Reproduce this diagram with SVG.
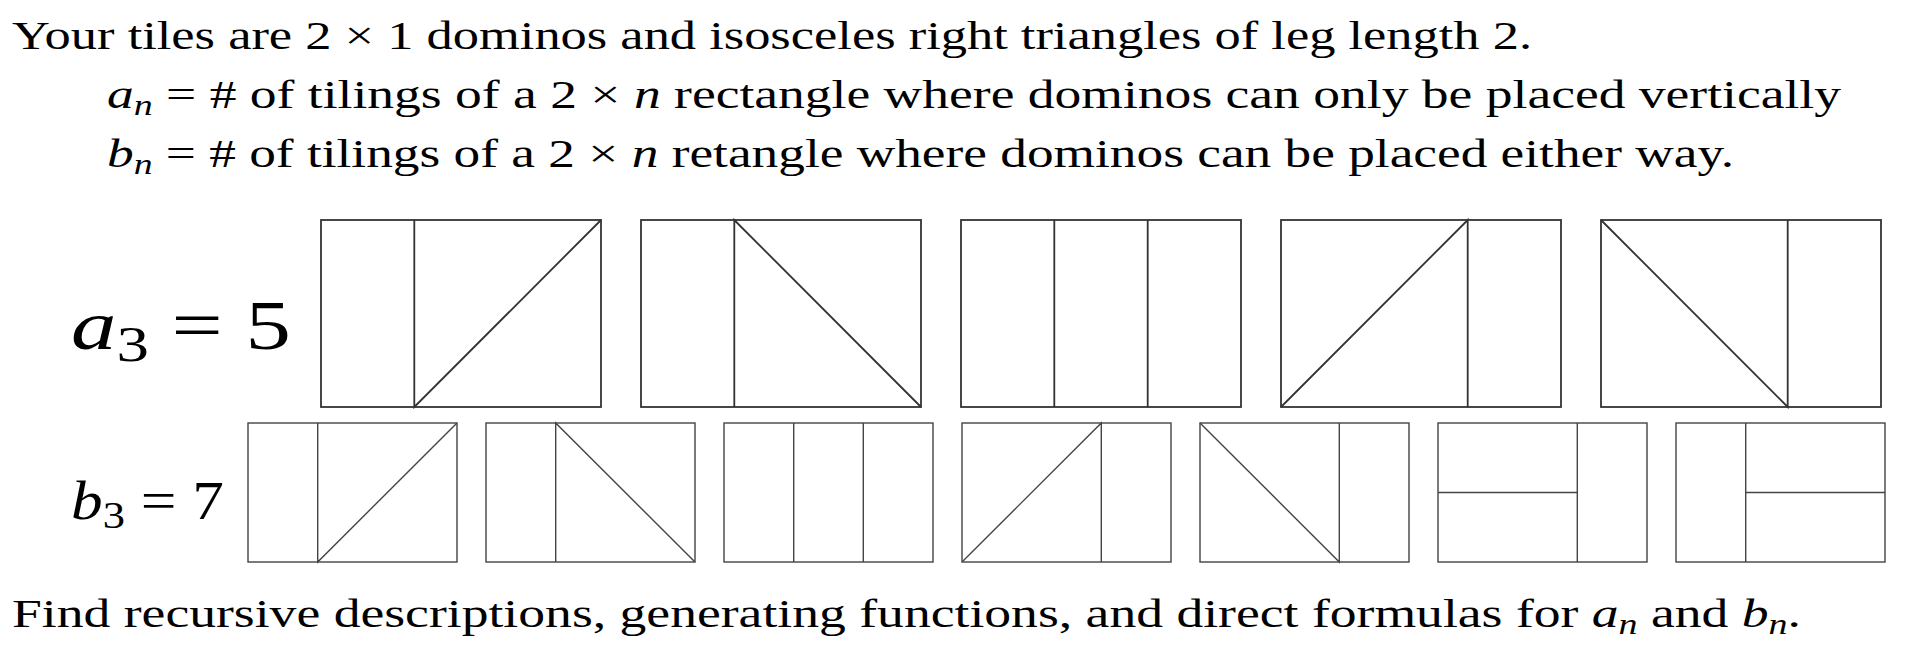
<svg xmlns="http://www.w3.org/2000/svg" width="1914" height="662" viewBox="0 0 1914 662">
<style>
text{font-family:"Liberation Serif","DejaVu Serif",serif;fill:#000}
.i{font-style:italic}
.b{fill:none;stroke:#333;stroke-width:1.8}
.s{fill:none;stroke:#444;stroke-width:1.4}
</style>
<rect width="1914" height="662" fill="#fff"/>
<text x="12" y="49" font-size="41" textLength="1520" lengthAdjust="spacingAndGlyphs">Your tiles are 2 × 1 dominos and isosceles right triangles of leg length 2.</text>
<text x="107" y="108" font-size="41" textLength="1734" lengthAdjust="spacingAndGlyphs"><tspan class="i">a</tspan><tspan class="i" font-size="29" dy="7">n</tspan><tspan dy="-7"> = # of tilings of a 2 × </tspan><tspan class="i">n</tspan> rectangle where dominos can only be placed vertically</text>
<text x="107" y="167" font-size="41" textLength="1627" lengthAdjust="spacingAndGlyphs"><tspan class="i">b</tspan><tspan class="i" font-size="29" dy="7">n</tspan><tspan dy="-7"> = # of tilings of a 2 × </tspan><tspan class="i">n</tspan> retangle where dominos can be placed either way.</text>
<text x="71" y="349" font-size="70" textLength="220" lengthAdjust="spacingAndGlyphs"><tspan class="i">a</tspan><tspan font-size="50" dy="12">3</tspan><tspan dy="-12"> = 5</tspan></text>
<text x="71" y="519" font-size="54" textLength="153" lengthAdjust="spacingAndGlyphs"><tspan class="i">b</tspan><tspan font-size="38" dy="9">3</tspan><tspan dy="-9"> = 7</tspan></text>
<text x="12" y="627" font-size="41" textLength="1789" lengthAdjust="spacingAndGlyphs">Find recursive descriptions, generating functions, and direct formulas for <tspan class="i">a</tspan><tspan class="i" font-size="29" dy="7">n</tspan><tspan dy="-7"> and </tspan><tspan class="i">b</tspan><tspan class="i" font-size="29" dy="7">n</tspan><tspan dy="-7">.</tspan></text>
<g id="a1"><rect class="b" x="321" y="220" width="280" height="187"/><path class="b" d="M414.3 220V407L601 220"/></g>
<g id="a2"><rect class="b" x="641" y="220" width="280" height="187"/><path class="b" d="M734.3 407V220L921 407"/></g>
<g id="a3"><rect class="b" x="961" y="220" width="280" height="187"/><path class="b" d="M1054.3 220V407M1147.7 220V407"/></g>
<g id="a4"><rect class="b" x="1281" y="220" width="280" height="187"/><path class="b" d="M1467.7 407V220L1281 407"/></g>
<g id="a5"><rect class="b" x="1601" y="220" width="280" height="187"/><path class="b" d="M1787.7 220V407L1601 220"/></g>
<g id="b1"><rect class="s" x="248" y="423" width="209" height="139"/><path class="s" d="M317.7 423V562L457 423"/></g>
<g id="b2"><rect class="s" x="486" y="423" width="209" height="139"/><path class="s" d="M555.7 562V423L695 562"/></g>
<g id="b3"><rect class="s" x="724" y="423" width="209" height="139"/><path class="s" d="M793.7 423V562M863.3 423V562"/></g>
<g id="b4"><rect class="s" x="962" y="423" width="209" height="139"/><path class="s" d="M1101.3 562V423L962 562"/></g>
<g id="b5"><rect class="s" x="1200" y="423" width="209" height="139"/><path class="s" d="M1339.3 423V562L1200 423"/></g>
<g id="b6"><rect class="s" x="1438" y="423" width="209" height="139"/><path class="s" d="M1577.3 423V562M1438 492.5H1577.3"/></g>
<g id="b7"><rect class="s" x="1676" y="423" width="209" height="139"/><path class="s" d="M1745.7 423V562M1745.7 492.5H1885"/></g>
</svg>
